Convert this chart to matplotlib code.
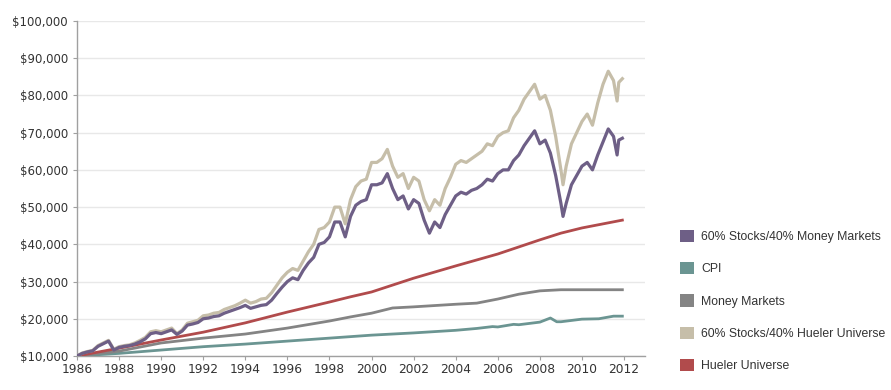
import matplotlib.pyplot as plt
from matplotlib.patches import Patch
from matplotlib.ticker import FuncFormatter

# quarterly-ish estimates for the two balanced portfolios (value in $ thousands)
t_bal = [1986.0, 1986.25, 1986.5, 1986.75, 1987.0, 1987.25, 1987.5, 1987.75,
         1988.0, 1988.25, 1988.5, 1988.75, 1989.0, 1989.25, 1989.5, 1989.75,
         1990.0, 1990.25, 1990.5, 1990.75, 1991.0, 1991.25, 1991.5, 1991.75,
         1992.0, 1992.25, 1992.5, 1992.75, 1993.0, 1993.25, 1993.5, 1993.75,
         1994.0, 1994.25, 1994.5, 1994.75, 1995.0, 1995.25, 1995.5, 1995.75,
         1996.0, 1996.25, 1996.5, 1996.75, 1997.0, 1997.25, 1997.5, 1997.75,
         1998.0, 1998.25, 1998.5, 1998.75, 1999.0, 1999.25, 1999.5, 1999.75,
         2000.0, 2000.25, 2000.5, 2000.75, 2001.0, 2001.25, 2001.5, 2001.75,
         2002.0, 2002.25, 2002.5, 2002.75, 2003.0, 2003.25, 2003.5, 2003.75,
         2004.0, 2004.25, 2004.5, 2004.75, 2005.0, 2005.25, 2005.5, 2005.75,
         2006.0, 2006.25, 2006.5, 2006.75, 2007.0, 2007.25, 2007.5, 2007.75,
         2008.0, 2008.25, 2008.5, 2008.75, 2009.0, 2009.1, 2009.25, 2009.5,
         2009.75, 2010.0, 2010.25, 2010.5, 2010.75, 2011.0, 2011.25, 2011.5,
         2011.67, 2011.75, 2011.92]

stocks_hueler = [10.0, 10.8, 11.2, 11.5, 12.8, 13.5, 14.2, 11.8,
                 12.5, 12.8, 13.0, 13.5, 14.2, 15.0, 16.5, 16.8,
                 16.5, 17.0, 17.5, 16.0, 17.0, 18.8, 19.2, 19.6,
                 20.8, 21.0, 21.5, 21.7, 22.5, 23.0, 23.5, 24.2,
                 25.0, 24.2, 24.6, 25.3, 25.5, 27.0, 29.0, 31.0,
                 32.5, 33.5, 33.0, 35.5, 38.0, 40.0, 44.0, 44.5,
                 46.0, 50.0, 50.0, 45.5, 52.0, 55.5, 57.0, 57.5,
                 62.0, 62.0, 63.0, 65.5, 61.0, 58.0, 59.0, 55.0,
                 58.0, 57.0, 52.0, 49.0, 52.0, 50.5, 55.0, 58.0,
                 61.5, 62.5, 62.0, 63.0, 64.0, 65.0, 67.0, 66.5,
                 69.0, 70.0, 70.5, 74.0, 76.0, 79.0, 81.0, 83.0,
                 79.0, 80.0, 76.0, 69.0, 60.0, 56.0, 61.0, 67.0,
                 70.0, 73.0, 75.0, 72.0, 78.0, 83.0, 86.5, 84.0,
                 78.5, 83.5, 84.5]

stocks_mm = [10.0, 10.7, 11.1, 11.4, 12.6, 13.3, 14.0, 11.6,
             12.3, 12.6, 12.8, 13.2, 13.8, 14.6, 16.0, 16.3,
             16.0, 16.5, 17.0, 15.8, 16.7, 18.3, 18.6, 19.0,
             20.0, 20.2, 20.6, 20.8, 21.5, 22.0, 22.5, 23.0,
             23.6, 22.8, 23.2, 23.6, 23.8, 25.0, 26.8, 28.5,
             30.0, 31.0, 30.5, 33.0, 35.0, 36.5, 40.0, 40.5,
             42.0, 46.0, 46.0, 42.0, 47.5, 50.5, 51.5, 52.0,
             56.0, 56.0, 56.5, 59.0, 55.0, 52.0, 53.0, 49.5,
             52.0, 51.0, 46.5, 43.0, 46.0, 44.5, 48.0, 50.5,
             53.0, 54.0, 53.5, 54.5, 55.0, 56.0, 57.5, 57.0,
             59.0, 60.0, 60.0, 62.5, 64.0, 66.5, 68.5, 70.5,
             67.0, 68.0, 64.5, 58.5, 51.0, 47.5, 51.0, 56.0,
             58.5, 61.0, 62.0, 60.0, 64.0, 67.5, 71.0, 69.0,
             64.0, 68.0, 68.5]

# smoother series
t_hueler = [1986, 1988, 1990, 1992, 1994, 1996, 1998, 1999, 2000, 2002,
            2004, 2006, 2008, 2009, 2010, 2011.92]
hueler = [10.0, 12.1, 14.3, 16.4, 18.9, 21.8, 24.5, 25.9, 27.2, 30.9,
          34.2, 37.4, 41.2, 43.0, 44.4, 46.5]

t_mm = [1986, 1988, 1990, 1992, 1994, 1996, 1998, 1999, 2000, 2001,
        2002, 2004, 2005, 2006, 2007, 2008, 2009, 2011.92]
money_markets = [10.0, 11.3, 13.5, 14.8, 15.9, 17.5, 19.4, 20.5, 21.5, 22.9,
                 23.2, 23.9, 24.2, 25.3, 26.6, 27.5, 27.8, 27.8]

t_cpi = [1986, 1988, 1990, 1992, 1994, 1996, 1998, 2000, 2002, 2004,
         2005, 2005.75, 2006, 2006.75, 2007, 2008, 2008.5, 2008.8, 2009.0,
         2010, 2010.8, 2011.0, 2011.5, 2011.92]
cpi = [10.0, 10.7, 11.6, 12.5, 13.2, 14.0, 14.8, 15.6, 16.2, 16.9,
       17.4, 17.9, 17.8, 18.5, 18.4, 19.1, 20.2, 19.2, 19.2,
       19.9, 20.0, 20.2, 20.7, 20.7]

years = list(range(1986, 2013, 2))
yticks = list(range(10000, 100001, 10000))

c_purple = '#6e5f86'
c_teal = '#6b9592'
c_gray = '#848484'
c_beige = '#c6bea9'
c_red = '#b14b4c'

fig = plt.figure(figsize=(8.91, 3.90), dpi=100)
ax = fig.add_axes([0.0864, 0.0872, 0.6376, 0.8590])

k = 1000
ax.plot(t_cpi, [v * k for v in cpi], color=c_teal, lw=2.0, zorder=3)
ax.plot(t_mm, [v * k for v in money_markets], color=c_gray, lw=2.0, zorder=3)
ax.plot(t_hueler, [v * k for v in hueler], color=c_red, lw=2.0, zorder=4)
ax.plot(t_bal, [v * k for v in stocks_hueler], color=c_beige, lw=2.3, zorder=5)
ax.plot(t_bal, [v * k for v in stocks_mm], color=c_purple, lw=2.3, zorder=6)

ax.set_xlim(1986, 2013)
ax.set_ylim(10000, 100000)
ax.set_xticks(years)
ax.set_yticks(yticks)
ax.yaxis.set_major_formatter(FuncFormatter(lambda v, p: '${:,.0f}'.format(v)))
ax.grid(axis='y', color='#e8e8e8', lw=1.0, zorder=0)
ax.set_axisbelow(True)
for s in ['top', 'right']:
    ax.spines[s].set_visible(False)
for s in ['left', 'bottom']:
    ax.spines[s].set_color('#a0a0a0')
    ax.spines[s].set_linewidth(1.0)
ax.tick_params(axis='both', colors='#a0a0a0', labelcolor='#333333',
               labelsize=8.5, length=3, width=0.8)
ax.tick_params(axis='x', labelsize=8.8, pad=2)

handles = [Patch(facecolor=c_purple), Patch(facecolor=c_teal),
           Patch(facecolor=c_gray), Patch(facecolor=c_beige),
           Patch(facecolor=c_red)]
labels = ['60% Stocks/40% Money Markets', 'CPI', 'Money Markets',
          '60% Stocks/40% Hueler Universe', 'Hueler Universe']
fig.legend(handles, labels, loc='upper left', bbox_to_anchor=(0.763, 0.41),
           frameon=False, handlelength=1.15, handleheight=1.15,
           handletextpad=0.6, labelspacing=1.55, borderaxespad=0,
           borderpad=0, labelcolor='#333333',
           prop={'family': 'Liberation Sans', 'size': 8.8})

fig.savefig('out.png', dpi=100)
